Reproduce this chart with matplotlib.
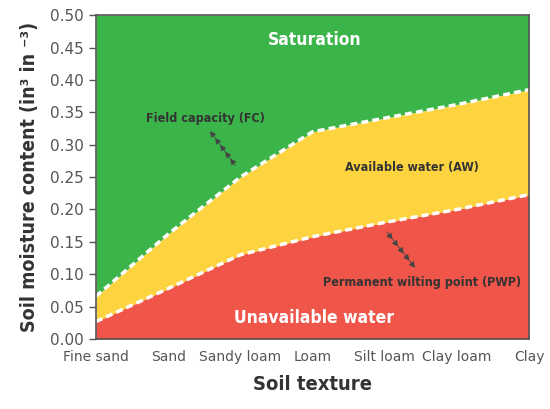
import matplotlib.pyplot as plt

textures = ['Fine sand', 'Sand', 'Sandy loam', 'Loam', 'Silt loam', 'Clay loam', 'Clay']
field_capacity = [0.066, 0.162, 0.250, 0.320, 0.341, 0.362, 0.385]
wilting_point = [0.027, 0.078, 0.130, 0.158, 0.180, 0.200, 0.223]
y_ticks = [0.00, 0.05, 0.10, 0.15, 0.20, 0.25, 0.30, 0.35, 0.40, 0.45, 0.50]

plt.rcParams['font.family'] = ['DejaVu Sans']
plt.rcParams['font.stretch'] = 'condensed'

green = '#3bb54a'
yellow = '#fdd33f'
red = '#f0554a'
dark = '#333333'

fig = plt.figure(figsize=(5.5, 4.09), dpi=100)
ax = fig.add_axes([0.1745, 0.171, 0.7875, 0.792])
x = list(range(len(textures)))

ax.fill_between(x, 0, wilting_point, color=red, lw=0)
ax.fill_between(x, wilting_point, field_capacity, color=yellow, lw=0)
ax.fill_between(x, field_capacity, 0.5, color=green, lw=0)
ax.plot(x, field_capacity, color='white', lw=2.5, ls=(0, (2, 1.2)))
ax.plot(x, wilting_point, color='white', lw=2.5, ls=(0, (2, 1.2)))

ax.set_xlim(0, 6)
ax.set_ylim(0, 0.5)
ax.set_xticks(x)
ax.set_xticklabels(textures, fontstretch='normal')
ax.set_yticks(y_ticks)
ax.set_yticklabels(['%.2f' % v for v in y_ticks], fontstretch='normal')
ax.tick_params(axis='x', length=0, pad=8, labelsize=10, labelcolor='#555555')
ax.tick_params(axis='y', length=5, width=1, color='#555555', labelsize=11,
               labelcolor='#555555')
for s in ax.spines.values():
    s.set_color('#555555')
    s.set_linewidth(1.2)

ax.set_xlabel('Soil texture', fontsize=14.5, fontweight='bold', color=dark, labelpad=8)
ax.set_ylabel('Soil moisture content (in³ in ⁻³)', fontsize=14,
              fontweight='bold', color=dark, labelpad=8)

ax.text(3.03, 0.461, 'Saturation', color='white', fontsize=12.5, fontweight='bold',
        ha='center', va='center')
ax.text(3.02, 0.032, 'Unavailable water', color='white', fontsize=12.5, fontweight='bold',
        ha='center', va='center')
ax.text(1.51, 0.341, 'Field capacity (FC)', color=dark, fontsize=9, fontweight='bold',
        ha='center', va='center')
ax.text(4.38, 0.265, 'Available water (AW)', color=dark, fontsize=9, fontweight='bold',
        ha='center', va='center')
ax.text(4.52, 0.088, 'Permanent wilting point (PWP)', color=dark, fontsize=9,
        fontweight='bold', ha='center', va='center')

# small chevron arrows pointing from the curve to the label
def chevrons(x0, y0, x1, y1, n=5):
    for i in range(n):
        t0 = i / n
        t1 = (i + 1) / n
        ax.annotate('', xy=(x0 + (x1 - x0) * t1, y0 + (y1 - y0) * t1),
                    xytext=(x0 + (x1 - x0) * t0, y0 + (y1 - y0) * t0),
                    arrowprops=dict(arrowstyle='-|>,head_length=0.35,head_width=0.18',
                                    color='#444444', lw=0.6, shrinkA=0, shrinkB=0))

chevrons(1.93, 0.268, 1.58, 0.321)
chevrons(4.03, 0.165, 4.42, 0.110)

fig.savefig('out.png', dpi=100)
